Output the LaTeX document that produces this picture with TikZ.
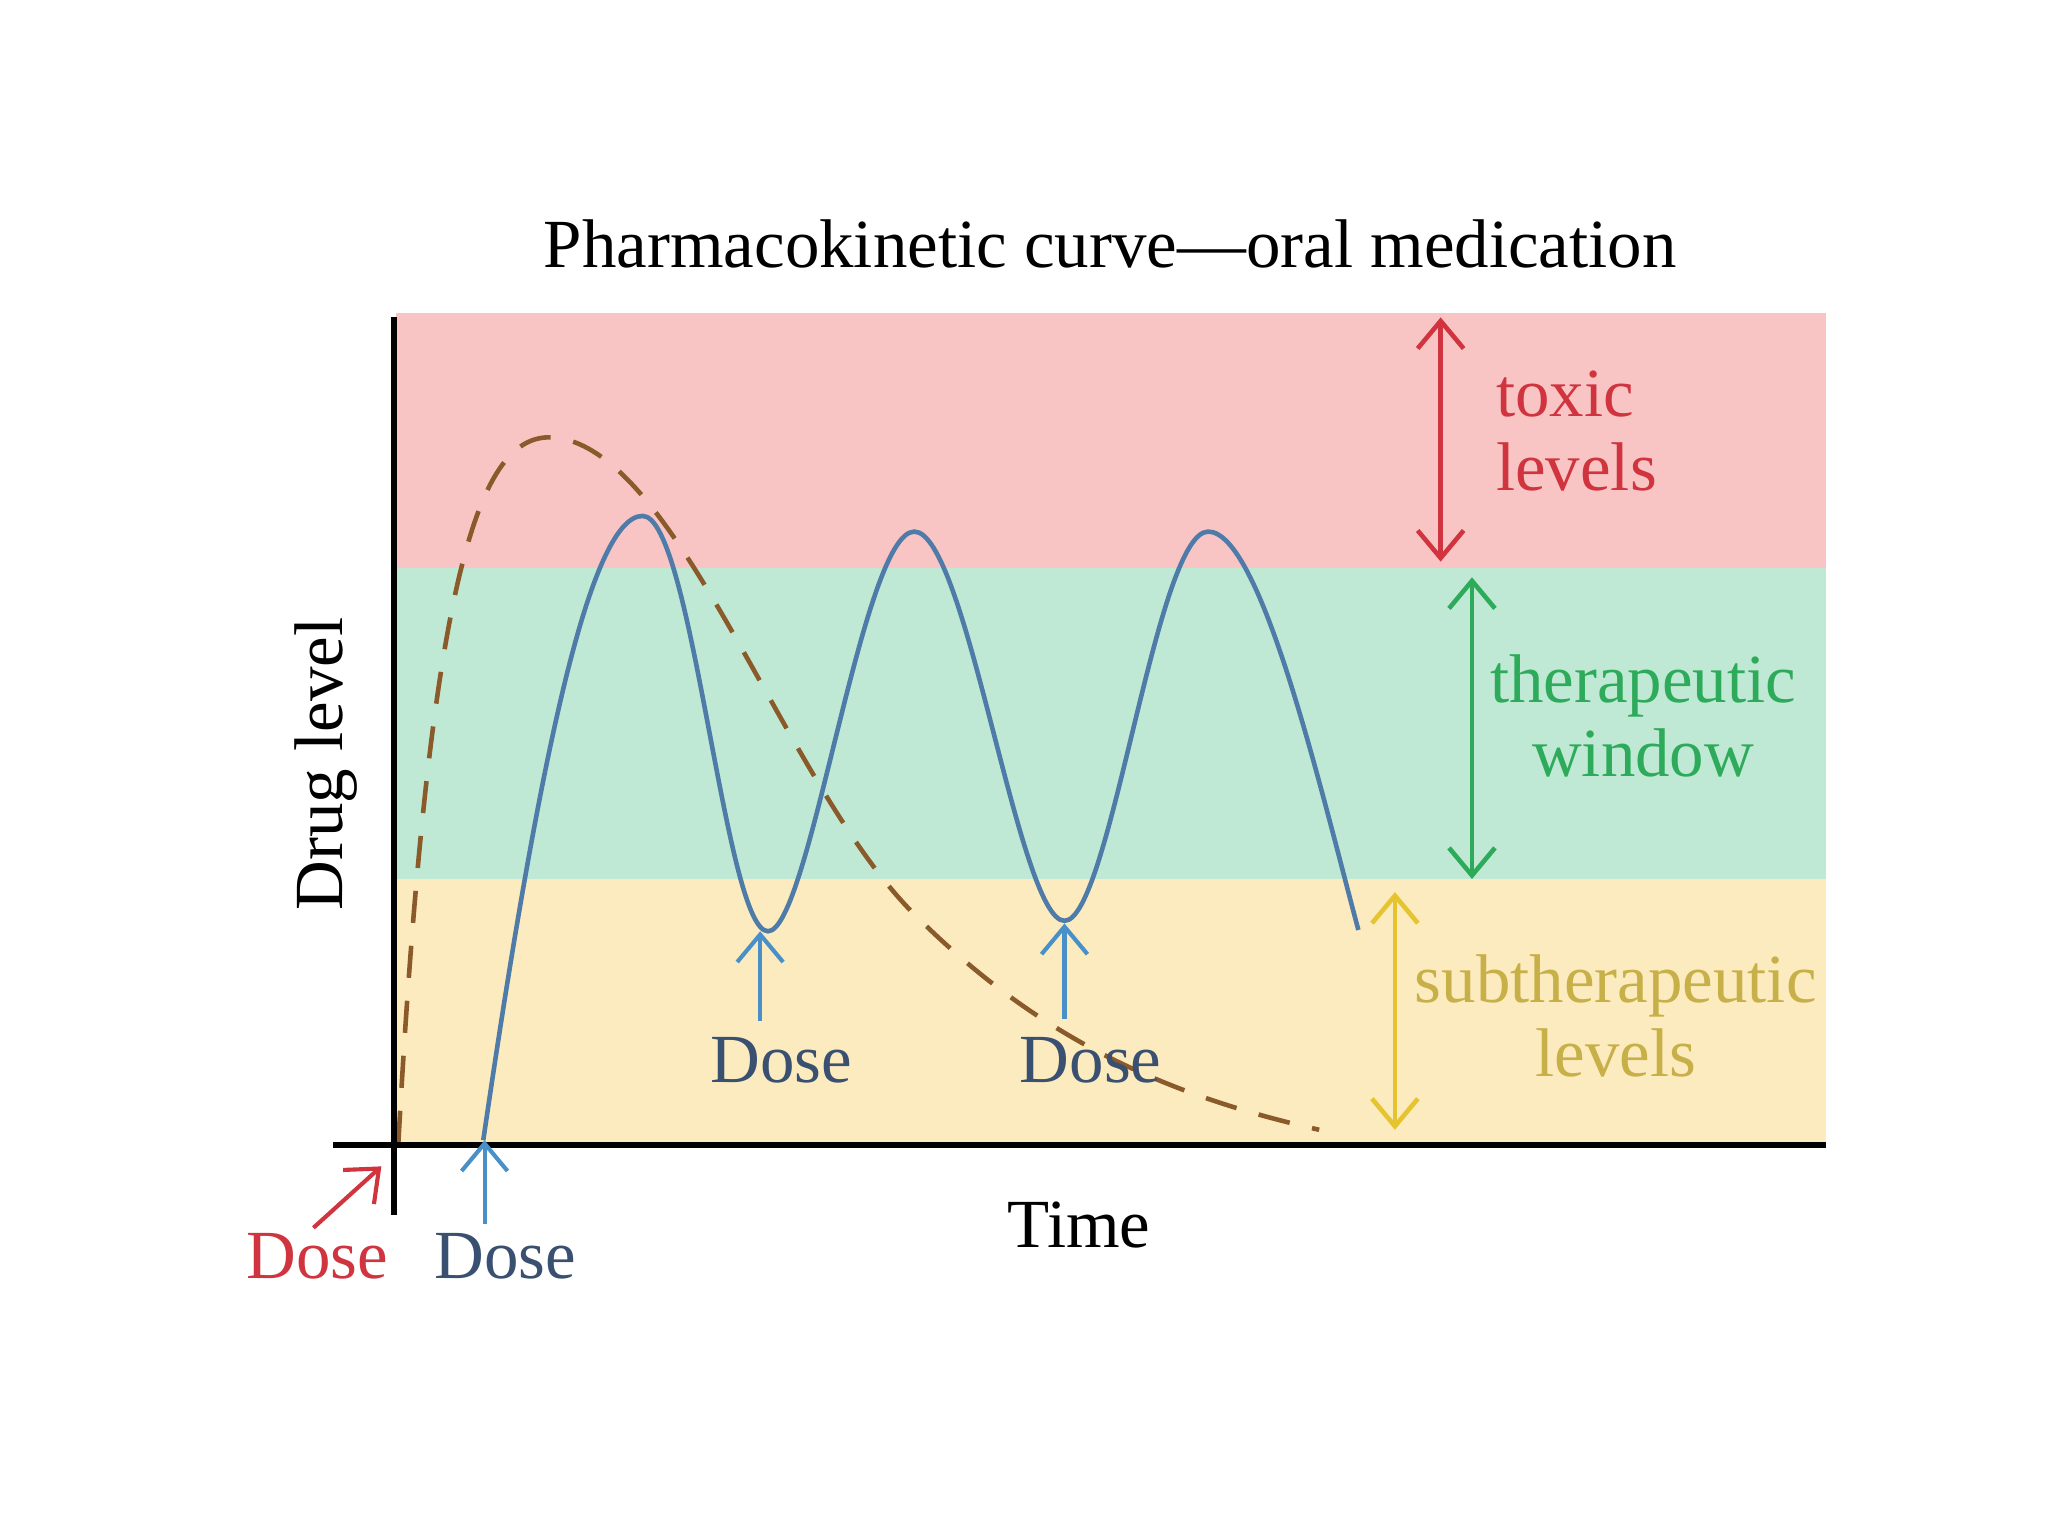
\documentclass[tikz,border=0pt]{standalone}
\usepackage{fontspec}
\setmainfont{Liberation Serif}
\usetikzlibrary{arrows.meta}
\definecolor{bred}{HTML}{F9C4C4}
\definecolor{bgreen}{HTML}{BFE9D4}
\definecolor{byel}{HTML}{FCEBBE}
\definecolor{tred}{HTML}{D0343F}
\definecolor{tgreen}{HTML}{2DAA5A}
\definecolor{tyel}{HTML}{E6C430}
\definecolor{tyeltxt}{HTML}{C8B048}
\definecolor{dosetxt}{HTML}{3A5070}
\definecolor{dosearr}{HTML}{4A90C8}
\definecolor{curveblue}{HTML}{4F7BA8}
\definecolor{brown}{HTML}{8B5A2B}
\tikzset{
 lbl/.style={font=\fontsize{15}{16}\selectfont, align=center, inner sep=0pt},
 darr/.style={{Straight Barb[length=6pt,width=10pt]}-{Straight Barb[length=6pt,width=10pt]}, line width=1pt},
 uarr/.style={-{Straight Barb[length=6pt,width=10pt]}, line width=0.9pt, dosearr}
}
\begin{document}
\begin{tikzpicture}[x=0.01cm,y=-0.01cm]
\useasboundingbox (0,0) rectangle (1568,1176);
\fill[white] (0,0) rectangle (1568,1176);
\fill[bred] (303,240) rectangle (1398,435);
\fill[bgreen] (303,435) rectangle (1398,673);
\fill[byel] (303,673) rectangle (1398,875);
\node[lbl] (title) at (850,187) {Pharmacokinetic curve---oral medication};
% curves
\draw[brown, line width=1pt, dash pattern=on 7pt off 5pt] (305,875) .. controls (330,420) and (370,330) .. (425,335) .. controls (520,345) and (600,600) .. (700,700) .. controls (800,800) and (900,840) .. (1010,865);
\draw[curveblue, line width=1pt] (370,873) .. controls (410,600) and (450,395) .. (492,395) .. controls (530,395) and (555,713) .. (588,713) .. controls (620,713) and (660,407) .. (700,407) .. controls (740,407) and (780,705) .. (815,705) .. controls (850,705) and (885,407) .. (925,407) .. controls (965,407) and (1010,600) .. (1040,712);
% axes
\draw[line width=1.3pt] (302,243) -- (302,930);
\draw[line width=1.3pt] (255,877) -- (1398,877);
% range arrows
\coordinate (t1) at (1103,243); \coordinate (t2) at (1103,430);
\draw[darr, tred] (t1) -- (t2);
\node[lbl, tred, align=left] (tox) at (1207,330) {toxic\\levels};
\coordinate (g1) at (1127,442); \coordinate (g2) at (1127,673);
\draw[darr, tgreen] (g1) -- (g2);
\node[lbl, tgreen] (ther) at (1258,548) {therapeutic\\window};
\coordinate (y1) at (1068,683); \coordinate (y2) at (1068,865);
\draw[darr, tyel] (y1) -- (y2);
\node[lbl, tyeltxt] (sub) at (1237,778) {subtherapeutic\\levels};
% doses
\node[lbl, dosetxt] (d2) at (598,812) {Dose};
\coordinate (d2t) at (582,713); \coordinate (d2b) at (582,782);
\draw[uarr] (d2b) -- (d2t);
\node[lbl, dosetxt] (d3) at (835,812) {Dose};
\coordinate (d3t) at (815,707); \coordinate (d3b) at (815,780);
\draw[uarr] (d3b) -- (d3t);
\node[lbl, dosetxt] (d1) at (387,962) {Dose};
\coordinate (d1t) at (371,873); \coordinate (d1b) at (371,937);
\draw[uarr] (d1b) -- (d1t);
\node[lbl, tred] (d0) at (243,962) {Dose};
\coordinate (d0a) at (240,940); \coordinate (d0b) at (292,893);
\draw[uarr, tred] (d0a) -- (d0b);
\node[lbl] (time) at (826,938) {Time};
\node[lbl, rotate=90] (dl) at (250,585) {Drug level};
\end{tikzpicture}
\end{document}
